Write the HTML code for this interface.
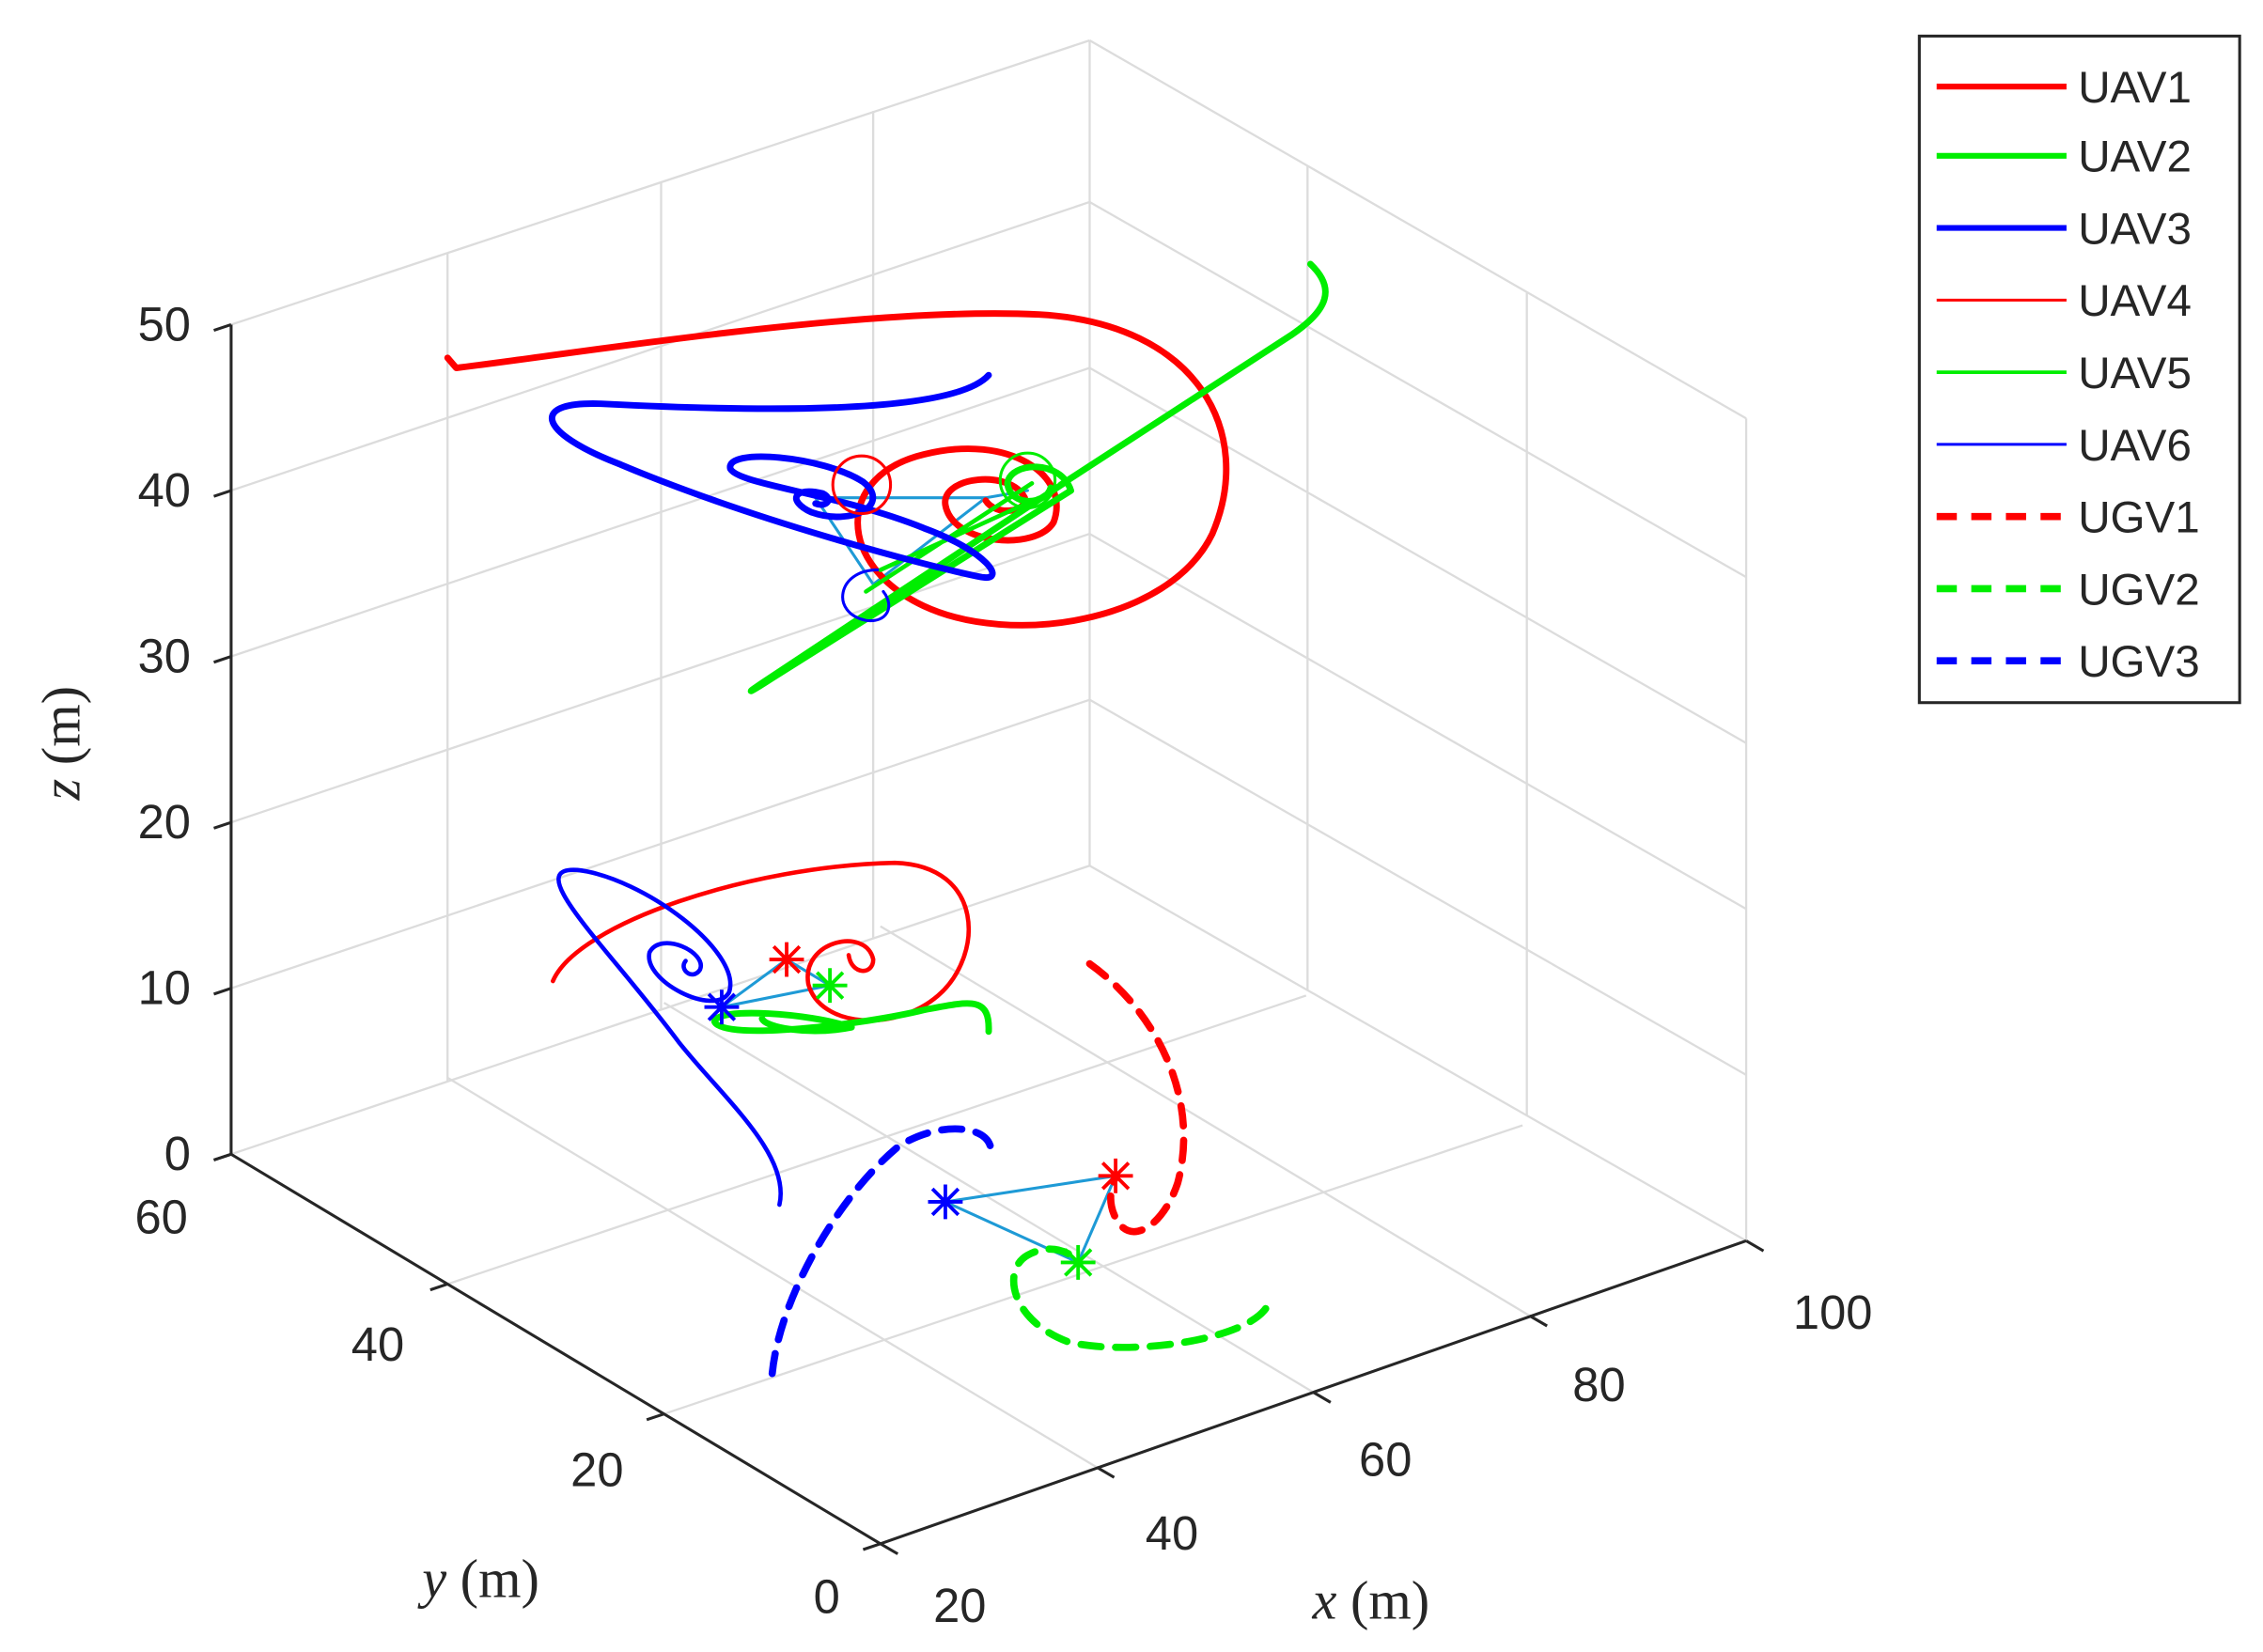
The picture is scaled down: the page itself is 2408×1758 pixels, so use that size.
<!DOCTYPE html>
<html><head><meta charset="utf-8"><style>
html,body{margin:0;padding:0;background:#fff;}
svg{display:block;}
text{font-family:"Liberation Sans",sans-serif;fill:#262626;}
.lab{font-family:"Liberation Serif",serif;font-size:38px;}
</style></head><body>
<svg width="2408" height="1758" viewBox="0 0 1568 1145" xmlns="http://www.w3.org/2000/svg">
<rect width="1568" height="1145" fill="#fff"/>
<g stroke="#dcdcdc" stroke-width="1.5" fill="none">
<path d="M160,800 L755,600 M160,685 L755,485 M160,570 L755,370 M160,455 L755,255 M160,340 L755,140 M160,225 L755,28"/>
<path d="M310,750 L310,175 M458,700 L458,126 M605,650 L605,77 M755,600 L755,28"/>
<path d="M755,600 L1210,860 M755,485 L1210,745 M755,370 L1210,630 M755,255 L1210,515 M755,140 L1210,400 M755,28 L1210,290"/>
<path d="M906,686 L906,115 M1058,773 L1058,203 M1210,860 L1210,290"/>
<path d="M310,890 L905,690 M460,980 L1055,780"/>
<path d="M760,1017 L310,747 M910,965 L460,695 M1060,912 L610,642"/>
</g>
<g stroke="#262626" stroke-width="2" fill="none">
<path d="M160,225 L160,800 L610,1070 L1210,860"/>
<path d="M160,225 L148,229 M160,340 L148,344 M160,455 L148,459 M160,570 L148,574 M160,685 L148,689 M160,800 L148,804"/>
<path d="M160,800 L148,804 M310,890 L298,894 M460,980 L448,984 M610,1070 L598,1074"/>
<path d="M610,1070 L622,1077 M760,1017 L772,1024 M910,965 L922,972 M1060,912 L1072,919 M1210,860 L1222,867"/>
</g>
<g font-size="33" text-anchor="end">
<text x="132" y="236">50</text><text x="132" y="351">40</text><text x="132" y="466">30</text>
<text x="132" y="581">20</text><text x="132" y="696">10</text><text x="132" y="811">0</text>
<text x="130" y="855">60</text><text x="280" y="943">40</text><text x="432" y="1030">20</text><text x="582" y="1118">0</text>
</g>
<g font-size="33" text-anchor="middle">
<text x="665" y="1124">20</text><text x="812" y="1074">40</text><text x="960" y="1023">60</text>
<text x="1108" y="971">80</text><text x="1270" y="921">100</text>
</g>
<text class="lab" transform="translate(55,515) rotate(-90)" text-anchor="middle"><tspan font-style="italic">z</tspan> (m)</text>
<text class="lab" x="333" y="1107" text-anchor="middle"><tspan font-style="italic">y</tspan> (m)</text>
<text class="lab" x="950" y="1122" text-anchor="middle"><tspan font-style="italic">x</tspan> (m)</text>

<g fill="none" stroke-linecap="round" stroke-linejoin="round">
<g stroke="#1e9ad6" stroke-width="2">
<path d="M565,345 L683,345 L712,340 M565,345 L605,405 L683,345"/>
<path d="M545,665 L575,683 L500,698 L545,665"/>
<path d="M773,815 L747,875 L655,833 L773,815"/>
</g>
<path stroke="#ff0000" stroke-width="4.5" d="M310,248 L316,255 C400,245 600,212 720,218 C830,224 870,300 840,370 C810,432 700,448 640,420 C580,392 578,330 640,315 C700,300 742,330 730,362 C718,382 660,378 655,350 C652,330 700,325 710,345 C712,355 690,358 683,347"/>
<path stroke="#00ee00" stroke-width="4.5" d="M908,183 C926,200 920,215 895,232 L735,336 M740,333 L530,472 C515,482 518,481 535,470 L742,340 C735,318 700,320 698,335 C700,352 725,350 728,338"/>
<path stroke="#00ee00" stroke-width="3" d="M600,410 L715,335 M610,395 L720,345"/>
<path stroke="#0000ff" stroke-width="4.5" d="M685,260 C660,288 520,285 420,280 C365,277 372,300 430,322 C520,360 640,392 680,400 C698,403 684,382 640,366 C580,342 512,336 506,325 C502,310 570,316 598,334 C618,350 590,365 562,355 C545,347 550,337 570,342 C578,346 572,352 565,349"/>
<circle cx="597" cy="336" r="20" stroke="#ff0000" stroke-width="2"/>
<circle cx="712" cy="333" r="19" stroke="#00ee00" stroke-width="2"/>
<path stroke="#0000ff" stroke-width="2" d="M608,395 C580,395 575,425 600,430 C615,432 620,420 612,410"/>
<path stroke="#ff0000" stroke-width="3" d="M383,680 C400,640 520,600 620,598 C682,600 682,662 650,690 C620,716 568,712 560,682 C555,652 600,642 605,665 C605,676 590,676 588,662"/>
<path stroke="#0000ff" stroke-width="3" d="M540,835 C548,800 500,760 470,722 C420,655 360,600 400,603 C445,608 515,660 505,688 C495,705 445,680 450,660 C458,645 490,660 485,672 C480,680 470,672 475,666"/>
<path stroke="#00ee00" stroke-width="4.5" d="M685,715 C686,690 672,694 640,700 C600,710 500,722 495,708 C497,698 560,702 590,712 C560,718 530,712 528,706"/>
<path stroke="#ff0000" stroke-width="5" stroke-dasharray="14,10" d="M755,668 C800,700 832,760 816,820 C806,850 782,866 772,842 C766,828 773,816 773,816"/>
<path stroke="#00ee00" stroke-width="5" stroke-dasharray="14,10" d="M877,907 C860,930 780,940 740,930 C700,915 694,880 712,870 C730,860 745,870 748,876"/>
<path stroke="#0000ff" stroke-width="5" stroke-dasharray="14,10" d="M535,952 C540,900 580,830 622,795 C652,775 692,780 686,802"/>
</g>
<g stroke-width="2.5">
<g stroke="#ff0000"><path d="M533,665 L557,665 M545,653 L545,677 M536,656 L554,674 M554,656 L536,674"/><path d="M761,815 L785,815 M773,803 L773,827 M764,806 L782,824 M782,806 L764,824"/></g>
<g stroke="#00ee00"><path d="M563,683 L587,683 M575,671 L575,695 M566,674 L584,692 M584,674 L566,692"/><path d="M735,875 L759,875 M747,863 L747,887 M738,866 L756,884 M756,866 L738,884"/></g>
<g stroke="#0000ff"><path d="M488,698 L512,698 M500,686 L500,710 M491,689 L509,707 M509,689 L491,707"/><path d="M643,833 L667,833 M655,821 L655,845 M646,824 L664,842 M664,824 L646,842"/></g>
</g>
<rect x="1330" y="25" width="222" height="462" fill="#fff" stroke="#262626" stroke-width="2"/>
<g fill="none">
<path d="M1342,60 L1432,60" stroke="#ff0000" stroke-width="4"/>
<path d="M1342,108 L1432,108" stroke="#00ee00" stroke-width="4"/>
<path d="M1342,158 L1432,158" stroke="#0000ff" stroke-width="4"/>
<path d="M1342,208 L1432,208" stroke="#ff0000" stroke-width="2"/>
<path d="M1342,258 L1432,258" stroke="#00ee00" stroke-width="2.5"/>
<path d="M1342,308 L1432,308" stroke="#0000ff" stroke-width="2"/>
<path d="M1342,358 L1432,358" stroke="#ff0000" stroke-width="5" stroke-dasharray="14,10"/>
<path d="M1342,408 L1432,408" stroke="#00ee00" stroke-width="5" stroke-dasharray="14,10"/>
<path d="M1342,458 L1432,458" stroke="#0000ff" stroke-width="5" stroke-dasharray="14,10"/>
</g>
<g font-size="31">
<text x="1440" y="71">UAV1</text><text x="1440" y="119">UAV2</text><text x="1440" y="169">UAV3</text>
<text x="1440" y="219">UAV4</text><text x="1440" y="269">UAV5</text><text x="1440" y="319">UAV6</text>
<text x="1440" y="369">UGV1</text><text x="1440" y="419">UGV2</text><text x="1440" y="469">UGV3</text>
</g>
</svg>
</body></html>
